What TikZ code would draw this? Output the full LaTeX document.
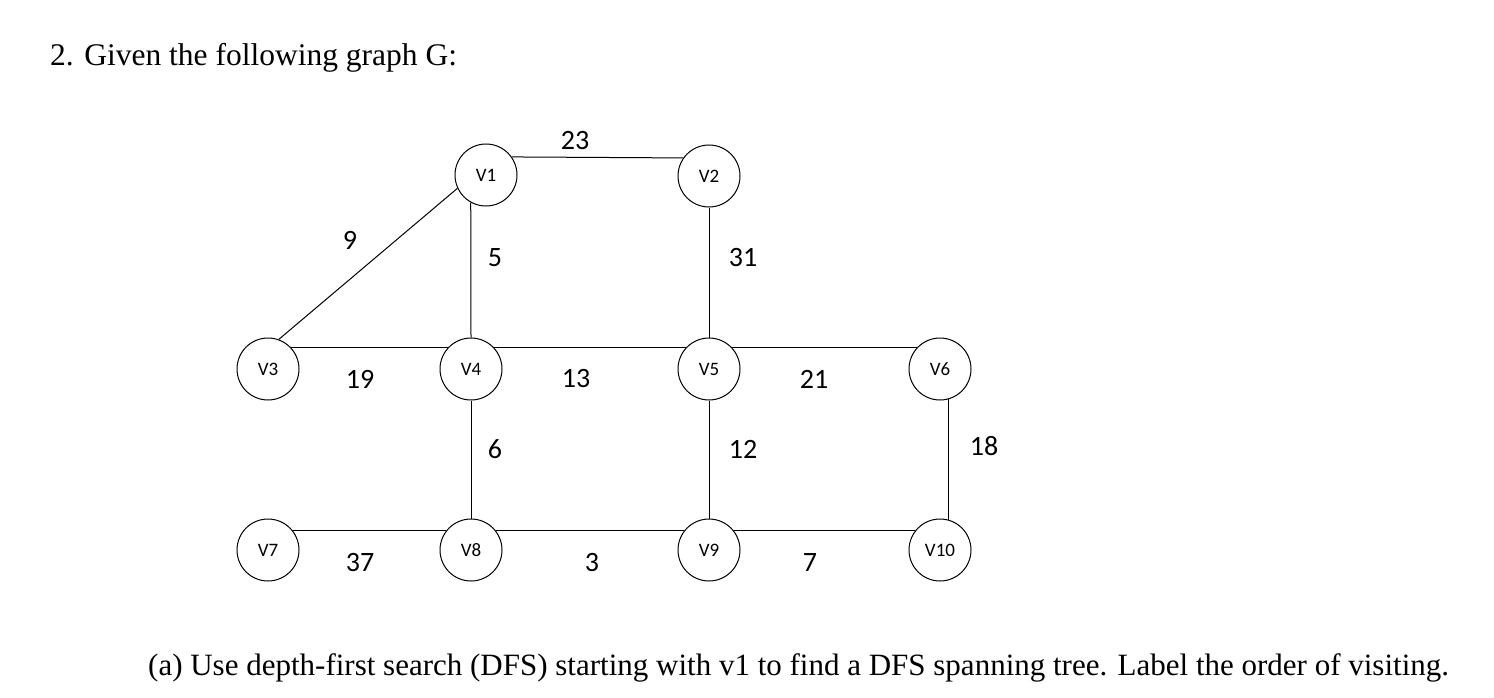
\documentclass[tikz,border=0pt]{standalone}
\usepackage{fontspec}
\setmainfont{Liberation Serif}
\newfontfamily\calfont{Carlito}
\begin{document}
\begin{tikzpicture}[x=1pt,y=-1pt,
  vert/.style={circle,draw,line width=1pt,minimum size=62pt,inner sep=0pt,font=\calfont\fontsize{19}{19}\selectfont},
  wt/.style={font=\calfont\fontsize{28}{28}\selectfont},
  edge/.style={line width=1pt}]
\useasboundingbox (0,0) rectangle (1494,698);
\node[anchor=west,inner sep=0pt,font=\fontsize{31.5}{32}\selectfont] (title) at (50,58) {2. Given the following graph G:};
\node[anchor=west,inner sep=0pt,font=\fontsize{31}{32}\selectfont] (q) at (148,668) {(a) Use depth-first search (DFS) starting with v1 to find a DFS spanning tree. Label the order of visiting.};
\node[vert] (v1) at (486,175) {V1};
\node[vert] (v2) at (709,176) {V2};
\node[vert] (v3) at (268,369) {V3};
\node[vert] (v4) at (471,369) {V4};
\node[vert] (v5) at (709,369) {V5};
\node[vert] (v6) at (940,369) {V6};
\node[vert] (v7) at (268,550) {V7};
\node[vert] (v8) at (471,550) {V8};
\node[vert] (v9) at (709,550) {V9};
\node[vert] (v10) at (940,550) {V10};
\draw[edge] (v1.35) -- (v2.145);
\draw[edge] (v3.70) -- (v1.205);
\draw[edge] (v1.241) -- (v4.north);
\draw[edge] (v2.south) -- (v5.north);
\draw[edge] (v3.43) -- (v4.137);
\draw[edge] (v4.43) -- (v5.137);
\draw[edge] (v5.43) -- (v6.137);
\draw[edge] (v4.south) -- (v8.north);
\draw[edge] (v5.south) -- (v9.north);
\draw[edge] (v6.285) -- (v10.75);
\draw[edge] (v7.38) -- (v8.142);
\draw[edge] (v8.38) -- (v9.142);
\draw[edge] (v9.38) -- (v10.142);
\node[wt] (w1) at (575,141) {23};
\node[wt] (w2) at (350,240) {9};
\node[wt] (w3) at (495,258) {5};
\node[wt] (w4) at (743,258) {31};
\node[wt] (w5) at (360,379) {19};
\node[wt] (w6) at (576,379) {13};
\node[wt] (w7) at (814,379) {21};
\node[wt] (w8) at (495,449) {6};
\node[wt] (w9) at (743,449) {12};
\node[wt] (w10) at (984,446) {18};
\node[wt] (w11) at (360,563) {37};
\node[wt] (w12) at (592,563) {3};
\node[wt] (w13) at (810,563) {7};
\end{tikzpicture}
\end{document}
